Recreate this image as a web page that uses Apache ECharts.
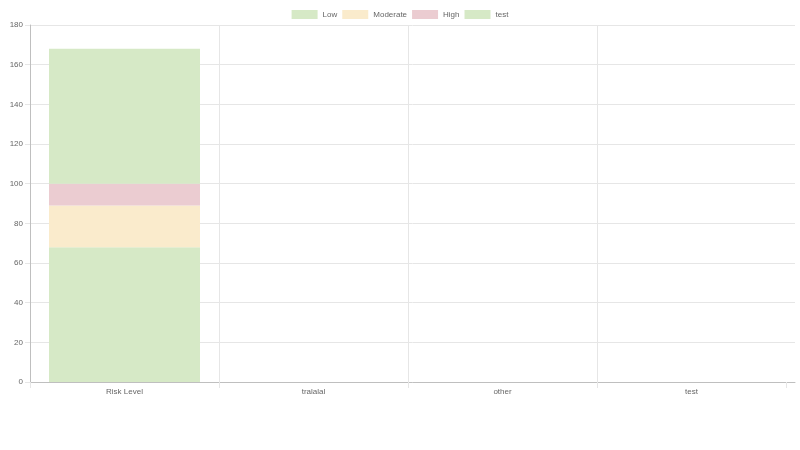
<!DOCTYPE html>
<html>
<head>
<meta charset="utf-8">
<script src="https://cdn.jsdelivr.net/npm/echarts@6/dist/echarts.min.js"></script>
<style>html,body{margin:0;padding:0;background:#fff;}#chart{width:800px;height:450px;}</style>
</head>
<body>
<div id="chart"></div>
<script>
var categories = ['Risk Level', 'tralalal', 'other', 'test'];
var lowValues = [68, 0, 0, 0];
var moderateValues = [21, 0, 0, 0];
var highValues = [11, 0, 0, 0];
var testValues = [68, 0, 0, 0];
var yTicks = [0, 20, 40, 60, 80, 100, 120, 140, 160, 180];

var seriesNames = ['Low', 'Moderate', 'High', 'test'];
var seriesData = [lowValues, moderateValues, highValues, testValues];
var seriesColors = ['#d6e9c6', '#faebcc', '#ebccd1', '#d6e9c6'];

var chart = echarts.init(document.getElementById('chart'));
var font = 'Liberation Sans, Arial, Helvetica, sans-serif';
var yMin = yTicks[0], yMax = yTicks[yTicks.length - 1], yStep = yTicks[1] - yTicks[0];
chart.setOption({
  animation: false,
  textStyle: { fontFamily: font },
  legend: {
    top: 5,
    left: 'center',
    itemWidth: 26,
    itemHeight: 9,
    itemGap: 5,
    icon: 'rect',
    textStyle: { fontSize: 8, color: '#666', fontFamily: font },
    data: seriesNames
  },
  grid: [
    { left: 30, right: 14, top: 25, bottom: 68, containLabel: false },
    { left: 30, right: 5, top: 25, bottom: 68, containLabel: false }
  ],
  xAxis: [
    {
      type: 'category',
      gridIndex: 0,
      data: categories,
      boundaryGap: true,
      axisLine: { show: false },
      axisTick: { show: true, length: 6, lineStyle: { color: '#e6e6e6' } },
      axisLabel: { fontSize: 8, color: '#666', margin: 6, fontFamily: font },
      splitLine: { show: true, showMinLine: false, showMaxLine: false, lineStyle: { color: '#e6e6e6', width: 1 } }
    },
    {
      type: 'value',
      gridIndex: 1,
      min: 0,
      max: 1,
      axisLine: { show: true, onZero: false, lineStyle: { color: '#bfbfbf', width: 1 } },
      axisTick: { show: false },
      axisLabel: { show: false },
      splitLine: { show: false }
    }
  ],
  yAxis: [
    {
      type: 'value',
      gridIndex: 0,
      min: yMin,
      max: yMax,
      interval: yStep,
      show: false,
      splitLine: { show: false }
    },
    {
      type: 'value',
      gridIndex: 1,
      min: yMin,
      max: yMax,
      interval: yStep,
      axisLine: { show: true, lineStyle: { color: '#bfbfbf', width: 1 } },
      axisTick: { show: true, length: 5, lineStyle: { color: '#e6e6e6' } },
      axisLabel: { fontSize: 8, color: '#666', margin: 7, fontFamily: font },
      splitLine: { show: true, lineStyle: { color: '#e6e6e6', width: 1 } }
    }
  ],
  series: seriesNames.map(function (name, i) {
    return {
      name: name,
      type: 'bar',
      xAxisIndex: 0,
      yAxisIndex: 0,
      stack: 'total',
      barWidth: 151,
      data: seriesData[i],
      itemStyle: { color: seriesColors[i] }
    };
  })
});
</script>
</body>
</html>
